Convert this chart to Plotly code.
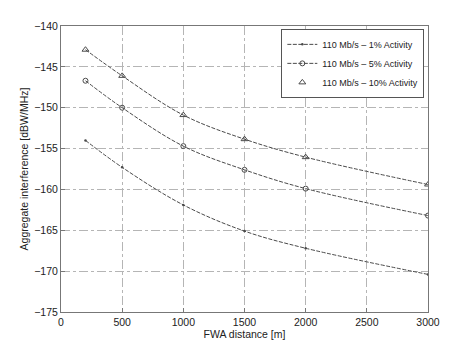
import plotly.graph_objects as go

distance = [200, 500, 1000, 1500, 2000, 3000]
act1 = [-154.0, -157.3, -161.9, -165.1, -167.2, -170.4]
act5 = [-146.7, -150.0, -154.7, -157.6, -159.9, -163.2]
act10 = [-142.9, -146.1, -150.9, -153.85, -156.05, -159.4]
names = ["110 Mb/s \u2013 1% Activity", "110 Mb/s \u2013 5% Activity", "110 Mb/s \u2013 10% Activity"]

lc = "#4a4a4a"
ldash = "4px,1.5px"
fig = go.Figure()
fig.add_trace(go.Scatter(x=distance, y=act1, name=names[0], mode="lines+markers",
                         line=dict(color=lc, width=1, dash=ldash, shape="spline"),
                         marker=dict(symbol="circle", size=2.5, color=lc)))
fig.add_trace(go.Scatter(x=distance, y=act5, name=names[1], mode="lines+markers",
                         line=dict(color=lc, width=1, dash=ldash, shape="spline"),
                         marker=dict(symbol="circle-open", size=5, color=lc, line=dict(width=1))))
fig.add_trace(go.Scatter(x=distance, y=act10, name=names[2], mode="lines", showlegend=False,
                         line=dict(color=lc, width=1, dash=ldash, shape="spline")))
fig.add_trace(go.Scatter(x=distance, y=act10, name=names[2], mode="markers",
                         marker=dict(symbol="triangle-up-open", size=6, color=lc, line=dict(width=1))))

axis_common = dict(showline=True, linecolor="#777777", linewidth=1, mirror=True,
                   showgrid=True, gridcolor="#b5b5b5", griddash="dashdot", gridwidth=1,
                   zeroline=False, ticks="inside", ticklen=4, tickcolor="#777777",
                   tickfont=dict(family="Liberation Sans, Arial", size=10.5, color="#222222"))
fig.update_xaxes(range=[0, 3000], dtick=500, title=dict(text="FWA distance [m]", standoff=3,
                 font=dict(family="Liberation Sans, Arial", size=10.5, color="#222222")), **axis_common)
fig.update_yaxes(range=[-175, -140], dtick=5, title=dict(text="Aggregate interference [dBW/MHz]", standoff=3,
                 font=dict(family="Liberation Sans, Arial", size=10.5, color="#222222")), **axis_common)

fig.update_layout(
    width=474, height=351,
    margin=dict(l=61, r=46, t=26, b=39),
    paper_bgcolor="white", plot_bgcolor="white",
    font=dict(family="Liberation Sans, Arial", size=10.5, color="#222222"),
    legend=dict(x=0.99, y=0.99, xanchor="right", yanchor="top",
                bordercolor="#555555", borderwidth=1, bgcolor="white",
                font=dict(size=9), tracegroupgap=0, itemwidth=30),
)
fig.write_html("out.html")
